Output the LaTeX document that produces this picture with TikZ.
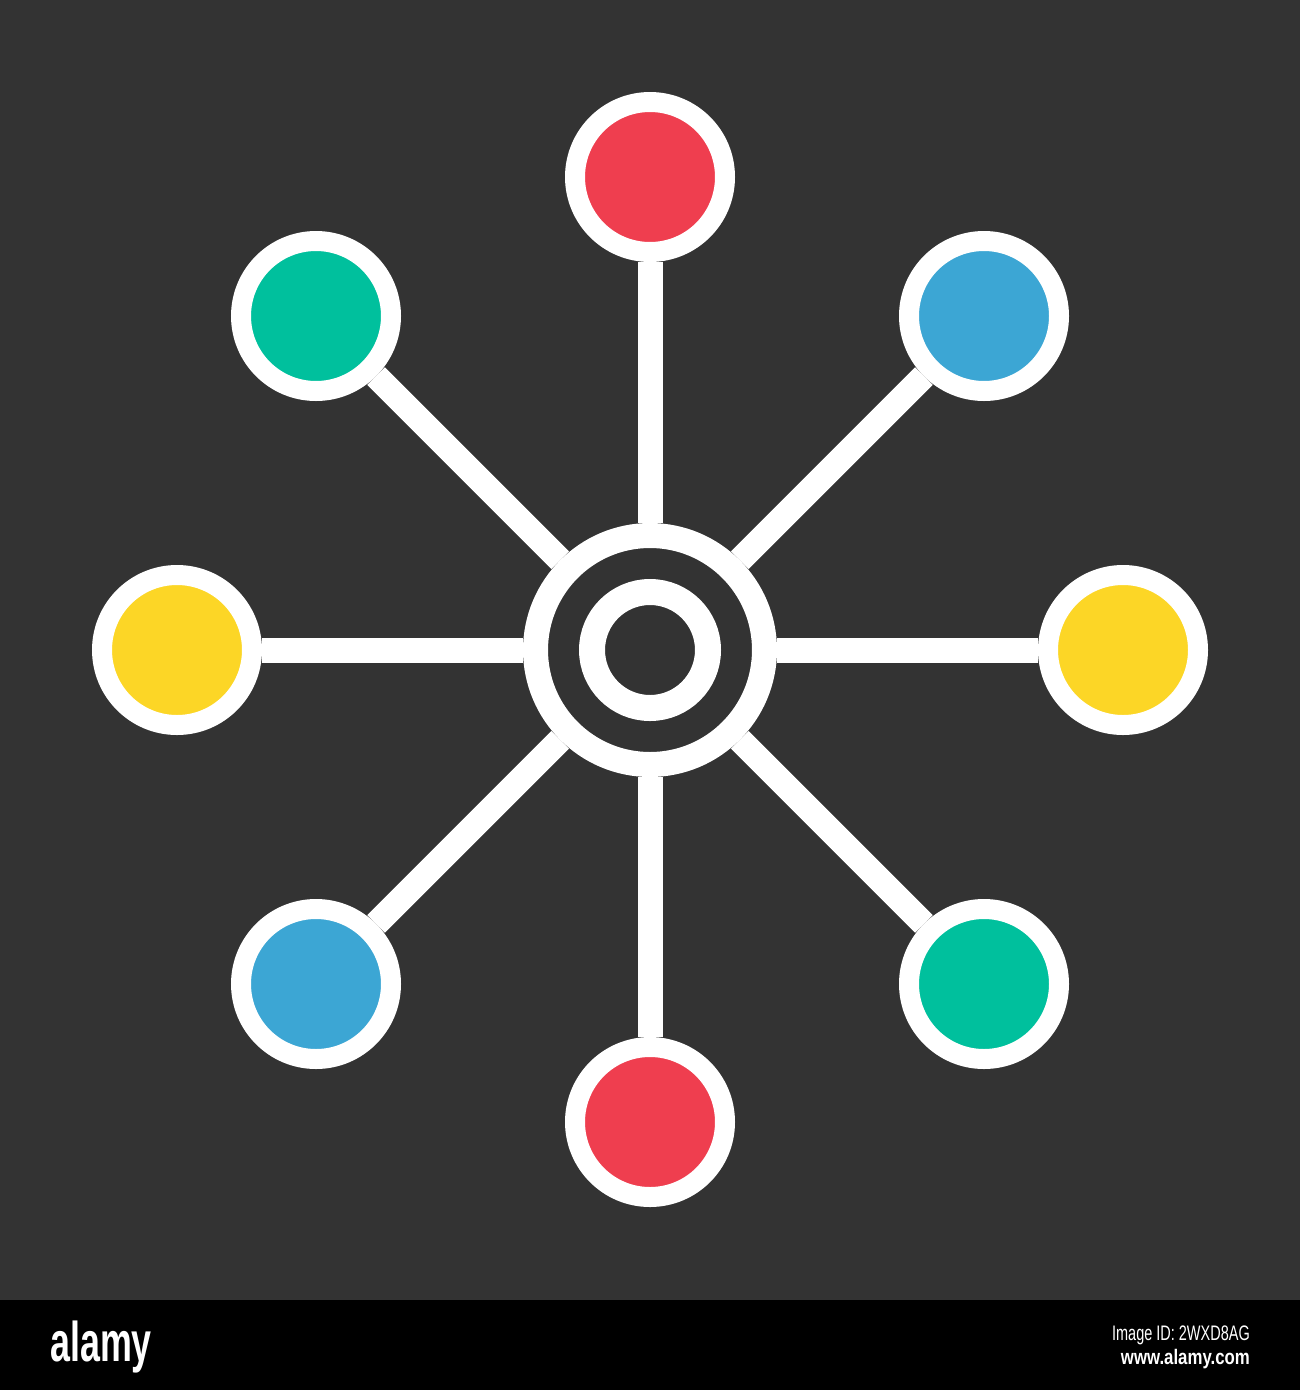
\documentclass[tikz,border=0pt]{standalone}
\usepackage{fontspec}
\setmainfont{Liberation Sans}
\definecolor{bg}{HTML}{333333}
\definecolor{cred}{HTML}{EF3E4F}
\definecolor{cgreen}{HTML}{00C09D}
\definecolor{cblue}{HTML}{3CA6D4}
\definecolor{cyellow}{HTML}{FCD626}
\tikzset{
  sat/.style={circle, draw=white, line width=20pt, minimum size=150pt, inner sep=0pt},
  hub/.style={circle, draw=white, fill=bg, line width=25pt, minimum size=229pt, inner sep=0pt},
  hubring/.style={circle, draw=white, fill=bg, line width=26pt, minimum size=116pt, inner sep=0pt},
  spoke/.style={draw=white, line width=25pt, line cap=butt},
  bartext/.style={text=white, inner sep=0pt}
}
\begin{document}
\begin{tikzpicture}[x=1pt,y=-1pt]
\fill[bg] (0,0) rectangle (1300,1300);
\fill[black] (0,1300) rectangle (1300,1390);
\useasboundingbox (0,0) rectangle (1300,1390);
% hub
\node[hub] (c) at (650,650) {};
\node[hubring] (ci) at (650,650) {};
% satellites
\node[sat, fill=cred] (n) at (650,177) {};
\node[sat, fill=cblue] (ne) at (984,316) {};
\node[sat, fill=cyellow] (e) at (1123,650) {};
\node[sat, fill=cgreen] (se) at (984,984) {};
\node[sat, fill=cred] (s) at (650,1122) {};
\node[sat, fill=cblue] (sw) at (316,984) {};
\node[sat, fill=cyellow] (w) at (177,650) {};
\node[sat, fill=cgreen] (nw) at (316,316) {};
% spokes
\foreach \t in {n,ne,e,se,s,sw,w,nw}{
  \draw[spoke] (c) -- (\t);
}
% bottom bar
\node[bartext, anchor=base west, font=\bfseries\fontsize{56}{56}\selectfont] (logo) at (50,1361) {\scalebox{0.64}[1]{alamy}};
\node[bartext, anchor=base east, font=\fontsize{21}{21}\selectfont] (imgid) at (1250,1340) {\scalebox{0.69}[1]{Image ID: 2WXD8AG}};
\node[bartext, anchor=base east, font=\bfseries\fontsize{21}{21}\selectfont] (url) at (1250,1364) {\scalebox{0.8}[1]{www.alamy.com}};
\end{tikzpicture}
\end{document}
